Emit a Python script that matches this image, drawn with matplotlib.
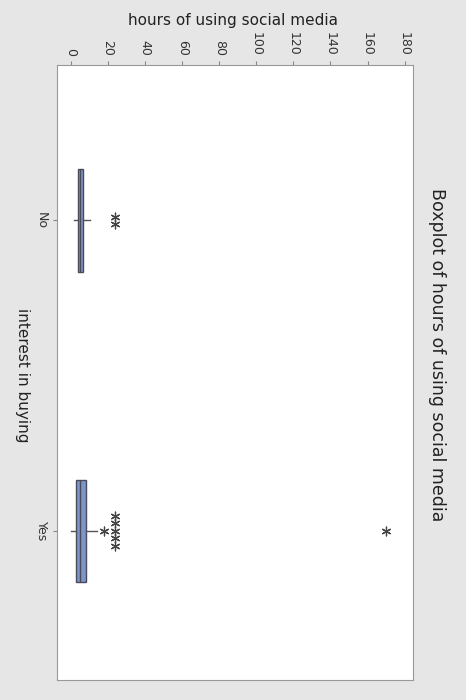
import numpy as np
import matplotlib.pyplot as plt

# box statistics (hours)
groups = ["No", "Yes"]
q1 = [3.8, 3.0]
med = [5.0, 5.0]
q3 = [6.5, 8.0]
wlo = [1.6, 0.0]
whi = [10.2, 14.0]
outliers = [[24, 24], [18, 24, 24, 24, 24, 24, 170]]
ticks = [0, 20, 40, 60, 80, 100, 120, 140, 160, 180]

fig = plt.figure(figsize=(4.66, 7.0), dpi=100)
fig.patch.set_facecolor("#e6e6e6")
ax = fig.add_axes([57 / 466, 20 / 700, 356 / 466, 615 / 700])
ax.set_facecolor("white")

stats = []
for i, g in enumerate(groups):
    stats.append(dict(label=g, q1=q1[i], med=med[i], q3=q3[i],
                      whislo=wlo[i], whishi=whi[i], fliers=[]))
pos = [1, 2]
ax.bxp(stats, positions=pos, vert=False, widths=0.33, patch_artist=True,
       showcaps=False,
       boxprops=dict(facecolor="#7b97c9", edgecolor="#4a4a5a", linewidth=1),
       medianprops=dict(color="#4a4a5a", linewidth=1),
       whiskerprops=dict(color="#555555", linewidth=1))

# outliers, tied values stacked slightly apart like Minitab
for p, vals in zip(pos, outliers):
    seen = {}
    for v in vals:
        seen[v] = seen.get(v, 0) + 1
    for v, n in seen.items():
        offs = (np.arange(n) - (n - 1) / 2) * 0.024
        ax.scatter([v] * n, p + offs, marker=(6, 2, 0), s=40,
                   color="#444444", linewidths=0.9)

ax.set_xlim(-7.5, 184.5)
ax.set_ylim(2.48, 0.5)
ax.xaxis.tick_top()
ax.set_xticks(ticks)
ax.set_xticklabels([str(t) for t in ticks], rotation=-90, fontsize=9,
                   color="#333333")
ax.set_yticks(pos)
ax.set_yticklabels(groups, rotation=-90, fontsize=9, color="#333333",
                   va="center")
ax.tick_params(length=3, color="#888888")
for s in ax.spines.values():
    s.set_color("#999999")

fig.text(233 / 466, 1 - 20 / 700, "hours of using social media",
         ha="center", va="center", fontsize=11, color="#222222")
fig.text(437 / 466, 1 - 355 / 700, "Boxplot of hours of using social media",
         ha="center", va="center", rotation=-90, fontsize=12.5,
         color="#222222")
fig.text(22 / 466, 1 - 375 / 700, "interest in buying", ha="center",
         va="center", rotation=-90, fontsize=11, color="#222222")

fig.savefig("out.png", dpi=100, facecolor=fig.get_facecolor())
